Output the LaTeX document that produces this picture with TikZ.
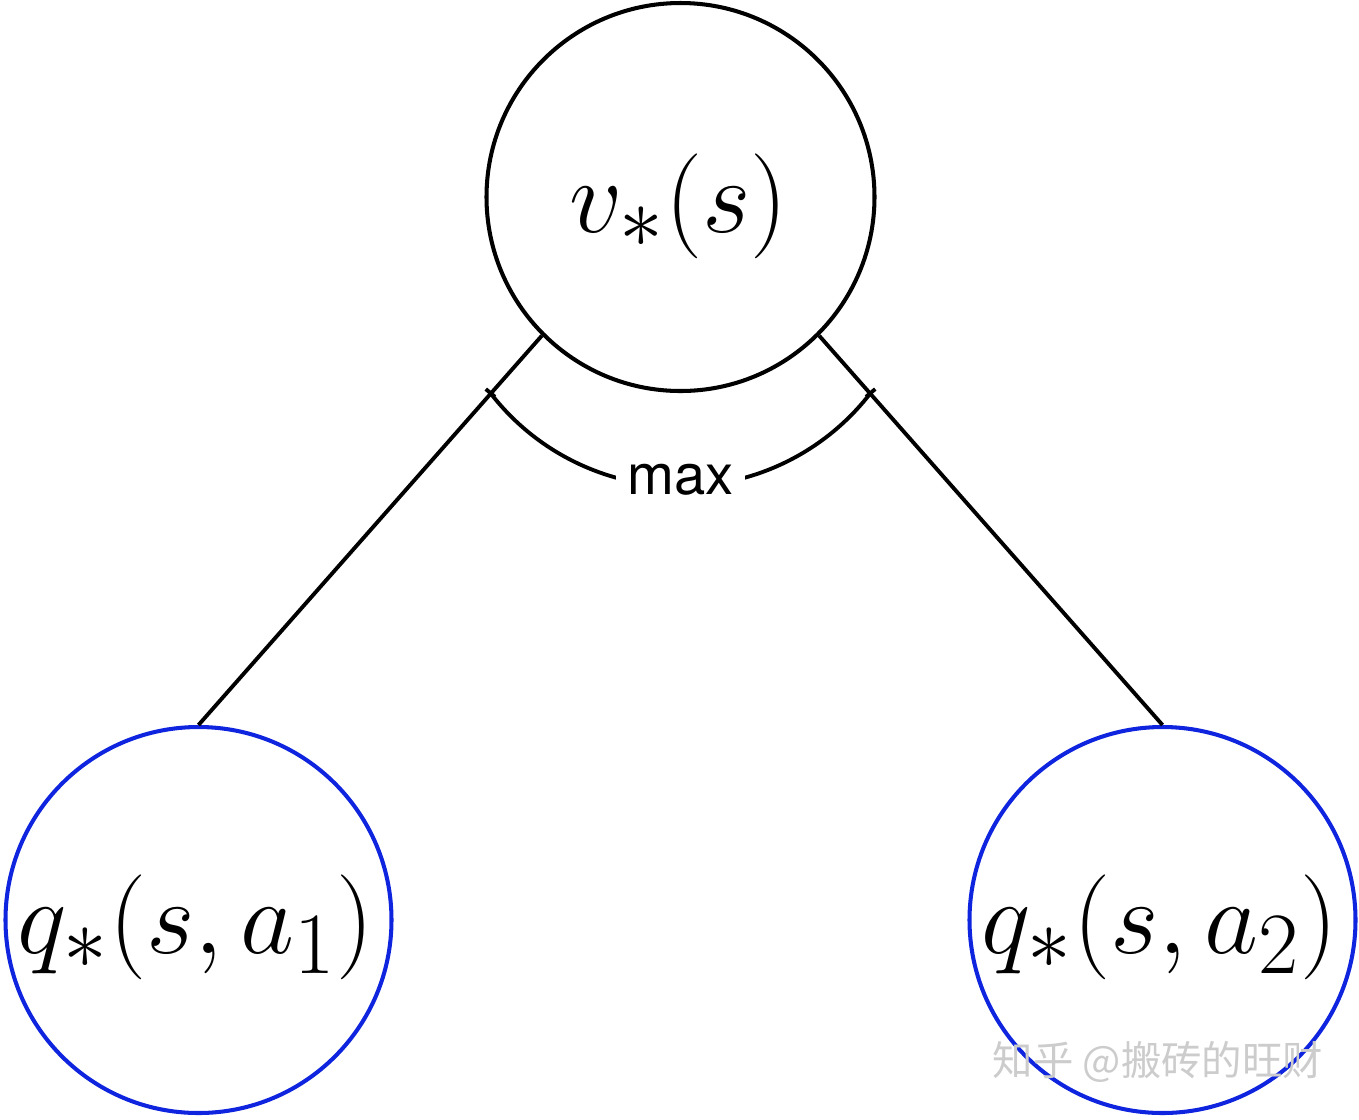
\documentclass[tikz,border=0pt]{standalone}
\usepackage{amsmath}
\usepackage{graphicx}
\usepackage{fontspec}
\usepackage{tikz}
\usetikzlibrary{calc}
\newfontfamily\maxfont{TeX Gyre Heros}
\newfontfamily\cjk{Noto Sans CJK SC}
\definecolor{qblue}{RGB}{14,36,222}
\newcommand{\biglabel}[1]{\scalebox{1.2}{\Huge $#1$}}

\tikzset{
    vnode/.style={draw=black,circle,line width=1.15pt,minimum size=3.88cm,inner sep=0pt},
    qnode/.style={draw=qblue,circle,line width=1.15pt,minimum size=3.86cm,inner sep=0pt},
}

\begin{document}
\begin{tikzpicture}[line width=1.1pt]

            \useasboundingbox (0,0) rectangle (13.59,-11.19);

            \node[vnode] (V) at (6.805,-1.97) {};
            \node[qnode] (Q1) at (1.985,-9.20) {};
            \node[qnode] (Q2) at (11.625,-9.20) {};

            \node at (6.79,-2.06) {\biglabel{v_*(s)}};
            \node at (1.96,-9.27) {\biglabel{q_*(s,a_1)}};
            \node at (11.60,-9.27) {\biglabel{q_*(s,a_2)}};

            \draw (V.225) -- (Q1.north);
            \draw (V.-45) -- (Q2.north);

            % max arc between the two branches
            \coordinate (M) at (6.805,-2.465);
            \coordinate (ML) at ($(M)+(-142.4:2.4)$);
            \coordinate (MR) at ($(M)+(-37.6:2.4)$);
            \draw (ML) arc[start angle=-142.4,end angle=-37.6,radius=2.4];
            \draw ($(ML)+(-40:0.06)$) -- ($(ML)+(140:0.06)$);
            \draw ($(MR)+(40:0.06)$) -- ($(MR)+(-140:0.06)$);
            \node[fill=white,inner sep=3.3pt,font=\maxfont\fontsize{16}{19}\selectfont] (max) at (6.805,-4.80) {max};

            \node[text=black!20,font=\cjk\fontsize{11.5}{13}\selectfont] (wm) at (11.58,-10.62) {知乎 @搬砖的旺财};
        \end{tikzpicture}
\end{document}
